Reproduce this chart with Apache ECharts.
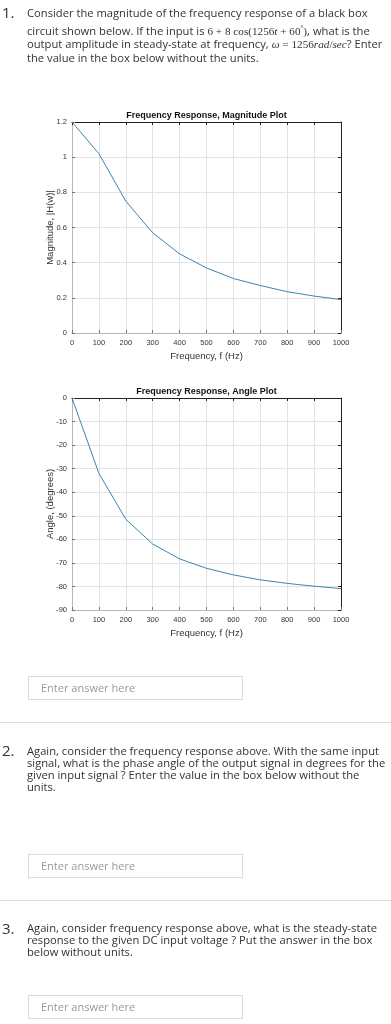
<!DOCTYPE html>
<html>
<head>
<meta charset="utf-8">
<script src="https://cdn.jsdelivr.net/npm/echarts@6/dist/echarts.min.js"></script>
<style>
  html, body { margin: 0; padding: 0; background: #fff; }
  body { width: 391px; height: 1024px; position: relative; overflow: hidden;
         font-family: "Open Sans", sans-serif; color: #333; }
  #chart { position: absolute; left: 0; top: 0; width: 391px; height: 1024px; }
  .ln { position: absolute; left: 27px; font-size: 11.2px; line-height: 14px; white-space: nowrap; z-index: 2; }
  .num { position: absolute; left: 2px; font-size: 15px; line-height: 16px; z-index: 2; }
  .m { font-family: "Liberation Serif", serif; font-size: 11.2px; }
  .box { position: absolute; left: 28px; width: 201px; height: 22px; border: 1px solid #dcdcdc;
         font-size: 11px; line-height: 22px; color: #999; padding-left: 12px; box-sizing: content-box; z-index: 2; }
  .sep { position: absolute; left: 0; width: 391px; height: 0; border-top: 1px solid #ddd; z-index: 2; }
</style>
</head>
<body>
<div id="chart"></div>

<div class="num" style="top:4px">1.</div>
<div class="ln" style="top:6px">Consider the magnitude of the frequency response of a black box</div>
<div class="ln" style="top:21px">circuit shown below. If the input is <span class="m">6 + 8 cos(1256<i>t</i> + 60<sup style="font-size:7px">°</sup>)</span>, what is the</div>
<div class="ln" style="top:37px">output amplitude in steady-state at frequency, <span class="m"><i>ω</i> = 1256<i>rad</i>/<i>sec</i></span>? Enter</div>
<div class="ln" style="top:51px">the value in the box below without the units.</div>

<div class="box" style="top:676px">Enter answer here</div>
<div class="sep" style="top:722px"></div>

<div class="num" style="top:742px">2.</div>
<div class="ln" style="top:744px">Again, consider the frequency response above. With the same input</div>
<div class="ln" style="top:756px">signal, what is the phase angle of the output signal in degrees for the</div>
<div class="ln" style="top:768px">given input signal ? Enter the value in the box below without the</div>
<div class="ln" style="top:780px">units.</div>

<div class="box" style="top:854px">Enter answer here</div>
<div class="sep" style="top:900px"></div>

<div class="num" style="top:920px">3.</div>
<div class="ln" style="top:921px">Again, consider frequency response above, what is the steady-state</div>
<div class="ln" style="top:933px">response to the given DC input voltage ? Put the answer in the box</div>
<div class="ln" style="top:945px">below without units.</div>

<div class="box" style="top:995px">Enter answer here</div>

<script>
// values
var freq = [0, 100, 200, 300, 400, 500, 600, 700, 800, 900, 1000];
var magnitude = [1.2, 1.02, 0.75, 0.57, 0.45, 0.37, 0.31, 0.27, 0.235, 0.21, 0.19];
var angle = [0, -32, -51.5, -62, -68.3, -72.3, -75.1, -77.2, -78.7, -79.9, -80.9];

var magTicks = { min: 0, max: 1.2, interval: 0.2 };
var angTicks = { min: -90, max: 0, interval: 10 };
var freqTicks = { min: 0, max: 1000, interval: 100 };

var fontFam = '"Liberation Sans", Arial, sans-serif';
var darkCol = '#222';
var lightCol = '#b8b8b8';
var lineCol = '#3f84b0';

var dom = document.getElementById('chart');
var myChart = echarts.init(dom);

function plainNum(v) {
    return String(Math.round(v * 100) / 100);
}

// bottom axis: light line, labels, grid
function mainX(gi, label) {
    return {
        type: 'value', gridIndex: gi, position: 'bottom',
        min: freqTicks.min, max: freqTicks.max, interval: freqTicks.interval,
        name: label, nameLocation: 'middle', nameGap: 18, nameMoveOverlap: false,
        nameTextStyle: { fontFamily: fontFam, fontSize: 9.5, color: '#333' },
        axisLine: { show: true, onZero: false, lineStyle: { color: lightCol, width: 1 } },
        axisTick: { show: true, inside: true, length: 3, lineStyle: { color: '#777' } },
        axisLabel: { fontFamily: fontFam, fontSize: 7.5, color: '#333', margin: 6, formatter: plainNum },
        splitLine: { show: true, lineStyle: { color: '#e3e3e3', width: 1 } }
    };
}

// top axis carries the title
function topX(gi, title) {
    return {
        type: 'value', gridIndex: gi, position: 'top',
        min: freqTicks.min, max: freqTicks.max, interval: freqTicks.interval,
        name: title, nameLocation: 'middle', nameGap: 2, nameMoveOverlap: false,
        nameTextStyle: { fontFamily: fontFam, fontSize: 9, fontWeight: 'bold', color: '#111' },
        axisLine: { show: true, onZero: false, lineStyle: { color: darkCol, width: 1 } },
        axisTick: { show: true, inside: true, length: 3, lineStyle: { color: darkCol } },
        axisLabel: { show: false },
        splitLine: { show: false }
    };
}

function mainY(gi, t, label) {
    return {
        type: 'value', gridIndex: gi, position: 'left',
        min: t.min, max: t.max, interval: t.interval,
        name: label, nameLocation: 'middle', nameGap: 17, nameMoveOverlap: false,
        nameTextStyle: { fontFamily: fontFam, fontSize: 9.5, color: '#333' },
        axisLine: { show: true, onZero: false, lineStyle: { color: lightCol, width: 1 } },
        axisTick: { show: true, inside: true, length: 3, lineStyle: { color: '#777' } },
        axisLabel: { fontFamily: fontFam, fontSize: 7.5, color: '#333', margin: 5, formatter: plainNum },
        splitLine: { show: true, lineStyle: { color: '#e3e3e3', width: 1 } }
    };
}

function rightY(gi, t) {
    return {
        type: 'value', gridIndex: gi, position: 'right',
        min: t.min, max: t.max, interval: t.interval,
        axisLine: { show: true, onZero: false, lineStyle: { color: darkCol, width: 1 } },
        axisTick: { show: true, inside: true, length: 3, lineStyle: { color: darkCol } },
        axisLabel: { show: false },
        splitLine: { show: false }
    };
}

var option = {
    animation: false,
    grid: [
        { left: 72, top: 122, width: 269, height: 211 },
        { left: 72, top: 398, width: 269, height: 212 }
    ],
    xAxis: [
        mainX(0, 'Frequency, f (Hz)'),
        topX(0, 'Frequency Response, Magnitude Plot'),
        mainX(1, 'Frequency, f (Hz)'),
        topX(1, 'Frequency Response, Angle Plot')
    ],
    yAxis: [
        mainY(0, magTicks, 'Magnitude, |H(w)|'),
        rightY(0, magTicks),
        mainY(1, angTicks, 'Angle, (degrees)'),
        rightY(1, angTicks)
    ],
    series: [
        {
            type: 'line', xAxisIndex: 0, yAxisIndex: 0, showSymbol: false,
            lineStyle: { color: lineCol, width: 1 },
            data: freq.map(function (f, i) { return [f, magnitude[i]]; })
        },
        {
            type: 'line', xAxisIndex: 2, yAxisIndex: 2, showSymbol: false,
            lineStyle: { color: lineCol, width: 1 },
            data: freq.map(function (f, i) { return [f, angle[i]]; })
        }
    ]
};

myChart.setOption(option);
</script>
</body>
</html>
